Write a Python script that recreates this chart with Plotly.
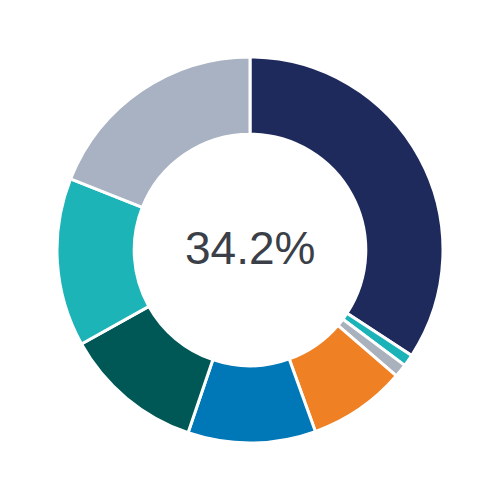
import plotly.graph_objects as go

labels = ["A", "B", "C", "D", "E", "F", "G", "H"]
values = [34.2, 1.0, 1.1, 8.2, 10.7, 11.7, 14.1, 19.0]
colors = ["#1e2a5b", "#1bb3b8", "#a9b1bd", "#f08024", "#0077b6", "#005856", "#1db4b8", "#a8b2c2"]
center_text = "34.2%"

fig = go.Figure(go.Pie(
    labels=labels,
    values=values,
    hole=0.6,
    sort=False,
    direction="clockwise",
    rotation=0,
    textinfo="none",
    hoverinfo="label+percent",
    marker=dict(colors=colors, line=dict(color="white", width=3)),
    showlegend=False,
))
fig.add_annotation(text=center_text, x=0.5, y=0.505, xref="paper", yref="paper",
                   showarrow=False,
                   font=dict(family="Liberation Sans, Arial, sans-serif", size=46, color="#3b3f47"))
fig.update_layout(width=500, height=500, margin=dict(l=49, r=65, t=49, b=65),
                  paper_bgcolor="white", plot_bgcolor="white")
fig.write_html("out.html")
